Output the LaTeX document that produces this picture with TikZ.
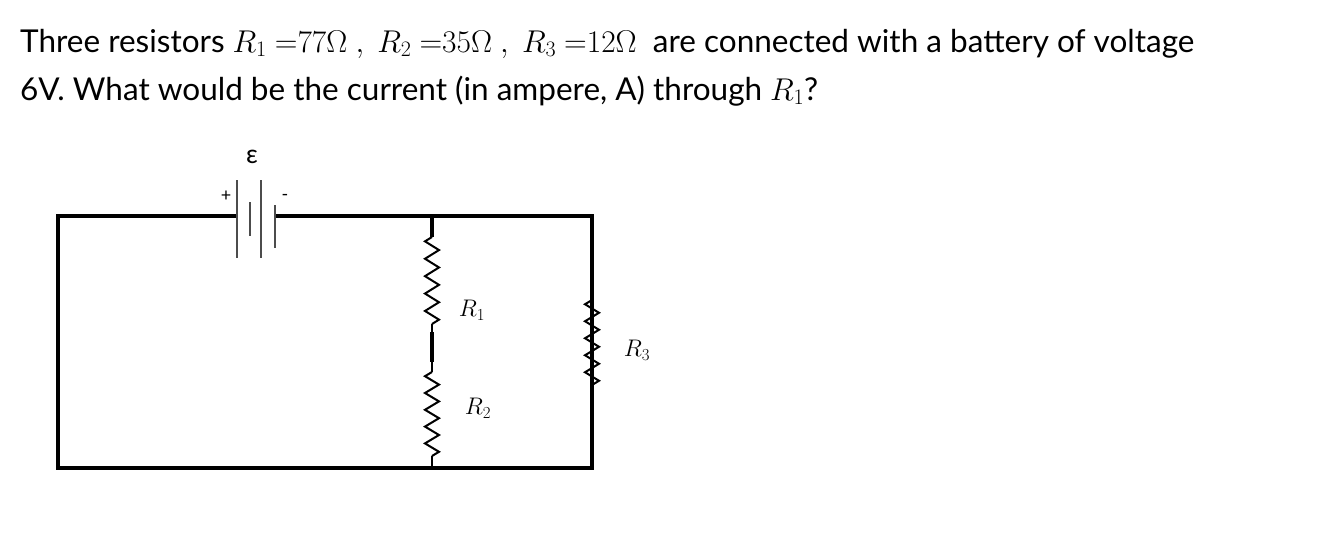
\documentclass[tikz,border=0pt]{standalone}
\usepackage{anyfontsize}
\usepackage{fontspec}
\setmainfont{Lato}
\newcommand{\zz}[4]{% x, y0, y1, halfperiods
  \draw[thin] (#1,#2)
  \foreach \k in {1,...,#4}{ -- ({#1+7*(2*mod(\k,2)-1)*(-1)},{#2+(#3-#2)*(\k-0.5)/#4}) } -- (#1,#3);}
\begin{document}
\begin{tikzpicture}[x=1pt,y=-1pt,
  wire/.style={line width=4.5pt},
  thin/.style={line width=2pt,line join=miter},
  plate/.style={line width=2.5pt,draw=black!70},
  lab/.style={font=\fontsize{24}{28}\selectfont}]
\useasboundingbox (0,0) rectangle (1344,536);
\node[anchor=base west,inner sep=0,font=\fontsize{31.5}{38}\selectfont] (t1) at (20,52) {Three resistors $R_1\ {=}77\Omega\ ,\ R_2\ {=}35\Omega\ ,\ R_3\ {=}12\Omega$\ \ are connected with a battery of voltage};
\node[anchor=base west,inner sep=0,font=\fontsize{31.5}{38}\selectfont] (t2) at (20,100) {6V. What would be the current (in ampere, A) through $R_1$?};
\coordinate (bl) at (237,216); \coordinate (br) at (275,216);
\coordinate (tl) at (58,216); \coordinate (botl) at (58,468);
\coordinate (m1) at (432,216); \coordinate (mb) at (432,468);
\coordinate (tr) at (592,216); \coordinate (botr) at (592,468);
\draw[wire] (bl) -- (tl) -- (botl) -- (botr) -- (tr) -- (br);
% battery
\draw[plate] (237,180) -- (237,258);
\draw[plate] (250,202) -- (250,236);
\draw[plate] (261,180) -- (261,258);
\draw[plate] (275,205) -- (275,248);
\node[font=\fontsize{26}{30}\selectfont] (eps) at (252,157) {ε};
\node[font=\fontsize{18}{20}\selectfont] (plus) at (226,196) {+};
\node[font=\fontsize{18}{20}\selectfont] (minus) at (285,197) {-};
% middle branch
\draw[wire] (m1) -- (432,237);
\zz{432}{237}{324}{10}
\draw[thin] (432,324) -- (432,332);
\draw[wire] (432,332) -- (432,362);
\draw[thin] (432,362) -- (432,372);
\zz{432}{372}{456}{10}
\draw[thin] (432,456) -- (mb);
% right branch
\draw[wire] (tr) -- (592,290);
\draw[thin] (592,290) -- (592,300);
\zz{592}{300}{385}{10}
\draw[thin] (592,385) -- (592,395);
\draw[wire] (592,395) -- (botr);
\node[lab] (l1) at (472,310) {$R_1$};
\node[lab] (l2) at (478,408) {$R_2$};
\node[lab] (l3) at (637,350) {$R_3$};
\end{tikzpicture}
\end{document}
